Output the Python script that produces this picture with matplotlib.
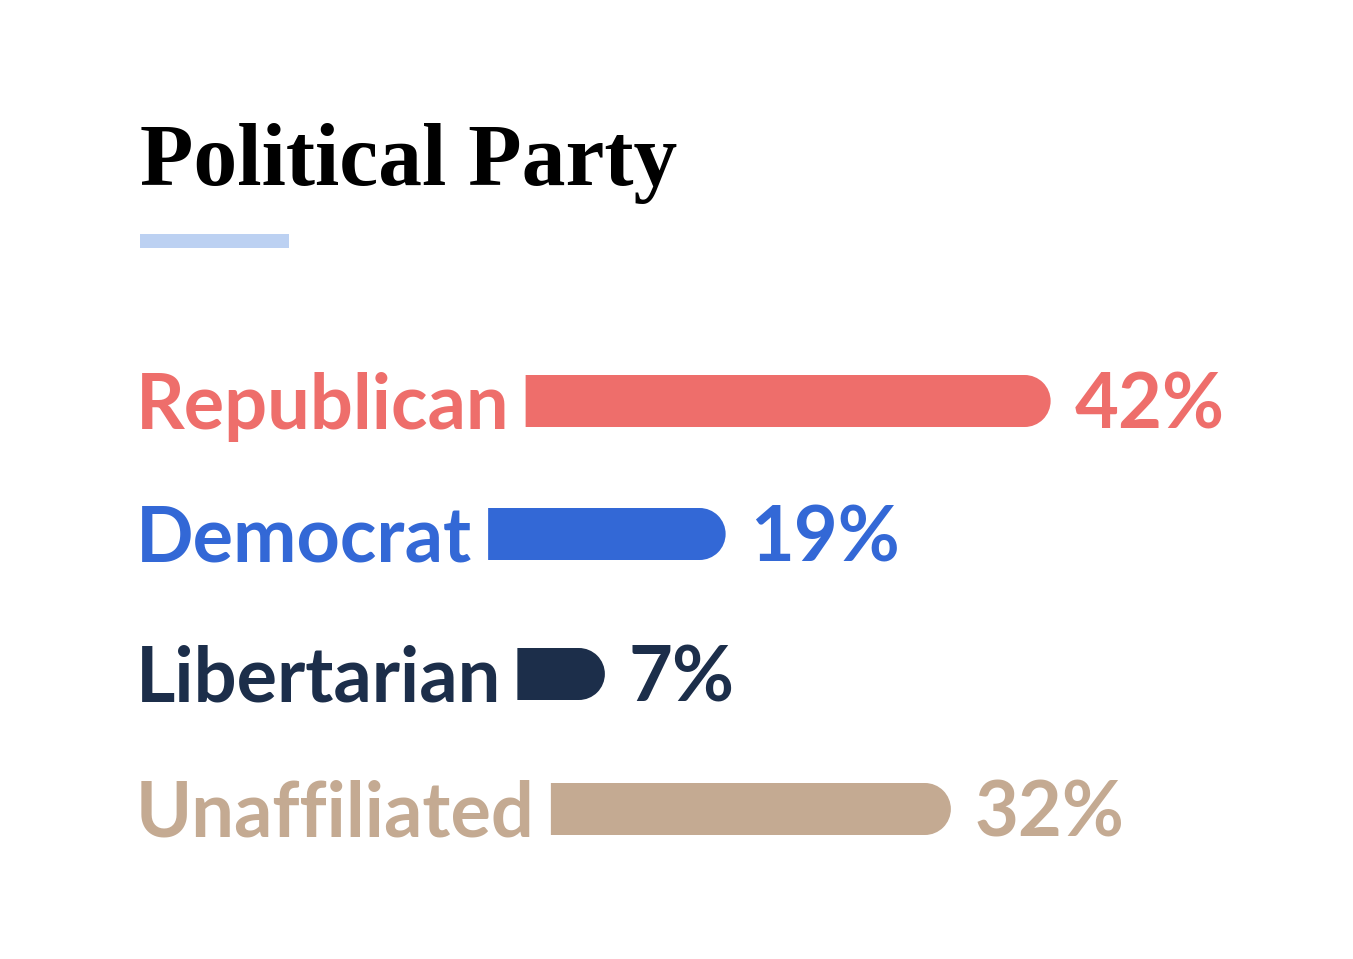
import matplotlib
matplotlib.use("Agg")
import matplotlib.pyplot as plt
from matplotlib.patches import Rectangle, PathPatch
from matplotlib.path import Path

# -----------------------------
# Data
parties = ["Republican", "Democrat", "Libertarian", "Unaffiliated"]
shares = [42, 19, 7, 32]           # percent
colors = ["#EE6E6B", "#3368D6", "#1C2E4A", "#C4AA92"]

# -----------------------------
# Layout (pixel units, y grows downward)
W, H = 1353, 959
row_y = [401, 534, 674, 809]       # bar centres
bar_h = 52
px_per_pct = 12.5
left = 136


def round_bar(x0, y, length, h, col):
    # square left end, round right end
    r = h / 2
    xc = x0 + length - r
    arc = Path.arc(-90, 90)
    verts = [(x0, y - r)] + [(xc + r * vx, y + r * vy) for vx, vy in arc.vertices]
    codes = [Path.MOVETO, Path.LINETO] + list(arc.codes[1:])
    verts += [(x0, y + r), (x0, y - r)]
    codes += [Path.LINETO, Path.CLOSEPOLY]
    return PathPatch(Path(verts, codes), facecolor=col, edgecolor="none")


fig = plt.figure(figsize=(W / 100, H / 100), dpi=100)
ax = fig.add_axes([0, 0, 1, 1])
ax.set_xlim(0, W)
ax.set_ylim(H, 0)
ax.axis("off")

# title + underline
ax.text(140, 185, "Political Party", fontsize=63, fontweight="bold",
        family="Liberation Serif", color="black", va="baseline", ha="left")
ax.add_patch(Rectangle((140, 234), 149, 14, color="#BCD1F2", lw=0))

fig.canvas.draw()
renderer = fig.canvas.get_renderer()
inv = ax.transData.inverted()

for name, val, col, y in zip(parties, shares, colors, row_y):
    t = ax.text(left, y + 27.5, name, fontsize=54.5, fontweight="bold",
                family="Lato", color=col, va="baseline", ha="left")
    bb = t.get_window_extent(renderer)
    x0 = inv.transform((bb.x1, 0))[0] + 16
    L = val * px_per_pct
    ax.add_patch(round_bar(x0, y, L, bar_h, col))
    ax.text(x0 + L + 24, y + 27.5, f"{val}%", fontsize=54.5, fontweight="bold",
            family="Lato", color=col, va="baseline", ha="left")

fig.savefig("out.png", dpi=100, facecolor="white")
